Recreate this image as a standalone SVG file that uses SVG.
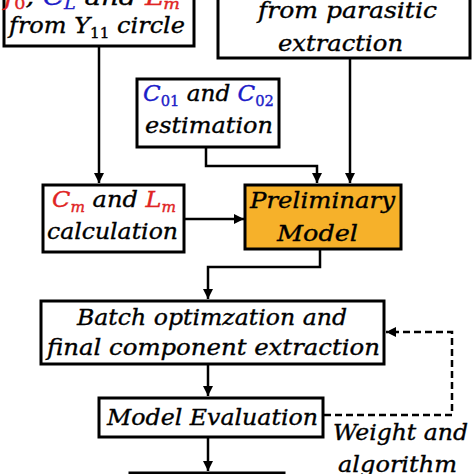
<svg xmlns="http://www.w3.org/2000/svg" width="474" height="474" viewBox="0 0 474 474">
<defs>
<style>
.box{fill:#fff;stroke:#000;stroke-width:3}
.t{font-family:"DejaVu Serif","Liberation Serif",serif;font-style:italic;font-size:22px;fill:#000;stroke:#000;stroke-width:0.35}
.sub{font-style:normal;font-size:14px}
.si{font-style:italic;font-size:14px}
.r{fill:#e02424;stroke:#e02424}
.b{fill:#1c1cc8;stroke:#1c1cc8}
.ln{fill:none;stroke:#000;stroke-width:2.5}
.dash{fill:none;stroke:#000;stroke-width:2.5;stroke-dasharray:7,4}
</style>
<marker id="ah" viewBox="0 0 10 10" refX="10" refY="5" markerWidth="4" markerHeight="4" orient="auto" markerUnits="strokeWidth">
<path d="M0,0 L10,5 L0,10 z" fill="#000"/>
</marker>
</defs>
<rect width="474" height="474" fill="#fff"/>

<g id="connectors">
<path class="ln" d="M99,46 V183" marker-end="url(#ah)"/>
<path class="ln" d="M350,58 V183" marker-end="url(#ah)"/>
<path class="ln" d="M206,147 V166 H317 V183" marker-end="url(#ah)"/>
<path class="ln" d="M185,219 H244" marker-end="url(#ah)"/>
<path class="ln" d="M320,250 V267 H208 V299" marker-end="url(#ah)"/>
<path class="ln" d="M208,365 V396" marker-end="url(#ah)"/>
<path class="ln" d="M208,438 V471" marker-end="url(#ah)"/>
<path class="dash" d="M324,415 H452 V332 H386" marker-end="url(#ah)"/>
</g>

<g id="node-f0">
<rect class="box" x="4" y="-30" width="190" height="76"/>
<text class="t" x="4" y="5" textLength="176" lengthAdjust="spacingAndGlyphs"><tspan class="r">f<tspan class="sub" dy="4">0</tspan></tspan><tspan dy="-4">, </tspan><tspan class="b">C<tspan class="si" dy="4">L</tspan></tspan><tspan dy="-4"> and </tspan><tspan class="r">L<tspan class="si" dy="4">m</tspan></tspan></text>
<text class="t" x="9" y="33" textLength="176" lengthAdjust="spacingAndGlyphs">from Y<tspan class="sub" dy="5">11</tspan><tspan dy="-5"> circle</tspan></text>
</g>

<g id="node-parasitic">
<rect class="box" x="218" y="-30" width="252" height="88"/>
<text class="t" x="258" y="18" textLength="179" lengthAdjust="spacingAndGlyphs">from parasitic</text>
<text class="t" x="278" y="51" textLength="125" lengthAdjust="spacingAndGlyphs">extraction</text>
</g>

<g id="node-c0">
<rect class="box" x="137" y="79" width="142" height="68"/>
<text class="t" x="143" y="101" textLength="131" lengthAdjust="spacingAndGlyphs"><tspan class="b">C<tspan class="sub" dy="5">01</tspan></tspan><tspan dy="-5"> and </tspan><tspan class="b">C<tspan class="sub" dy="5">02</tspan></tspan></text>
<text class="t" x="145" y="133" textLength="128" lengthAdjust="spacingAndGlyphs">estimation</text>
</g>

<g id="node-cm">
<rect class="box" x="43" y="185" width="141" height="67"/>
<text class="t" x="52" y="207" textLength="124" lengthAdjust="spacingAndGlyphs"><tspan class="r">C<tspan class="si" dy="5">m</tspan></tspan><tspan dy="-5"> and </tspan><tspan class="r">L<tspan class="si" dy="5">m</tspan></tspan></text>
<text class="t" x="47" y="239" textLength="131" lengthAdjust="spacingAndGlyphs">calculation</text>
</g>

<g id="node-preliminary">
<rect x="245" y="185" width="156" height="64" fill="#f6b12a" stroke="#000" stroke-width="3"/>
<text class="t" x="250" y="208" textLength="145" lengthAdjust="spacingAndGlyphs">Preliminary</text>
<text class="t" x="277" y="241" textLength="81" lengthAdjust="spacingAndGlyphs">Model</text>
</g>

<g id="node-batch">
<rect class="box" x="41" y="301" width="343" height="63"/>
<text class="t" x="77" y="325" textLength="270" lengthAdjust="spacingAndGlyphs">Batch optimzation and</text>
<text class="t" x="47" y="355" textLength="333" lengthAdjust="spacingAndGlyphs">final component extraction</text>
</g>

<g id="node-eval">
<rect class="box" x="99" y="398" width="224" height="39"/>
<text class="t" x="107" y="425" textLength="211" lengthAdjust="spacingAndGlyphs">Model Evaluation</text>
</g>

<g id="label-weight">
<text class="t" x="333" y="440" textLength="135" lengthAdjust="spacingAndGlyphs">Weight and</text>
<text class="t" x="338" y="472" textLength="119" lengthAdjust="spacingAndGlyphs">algorithm</text>
</g>

<g id="node-final">
<rect x="130" y="473" width="154" height="30" fill="#1f2d16" stroke="#000" stroke-width="3"/>
</g>
</svg>
